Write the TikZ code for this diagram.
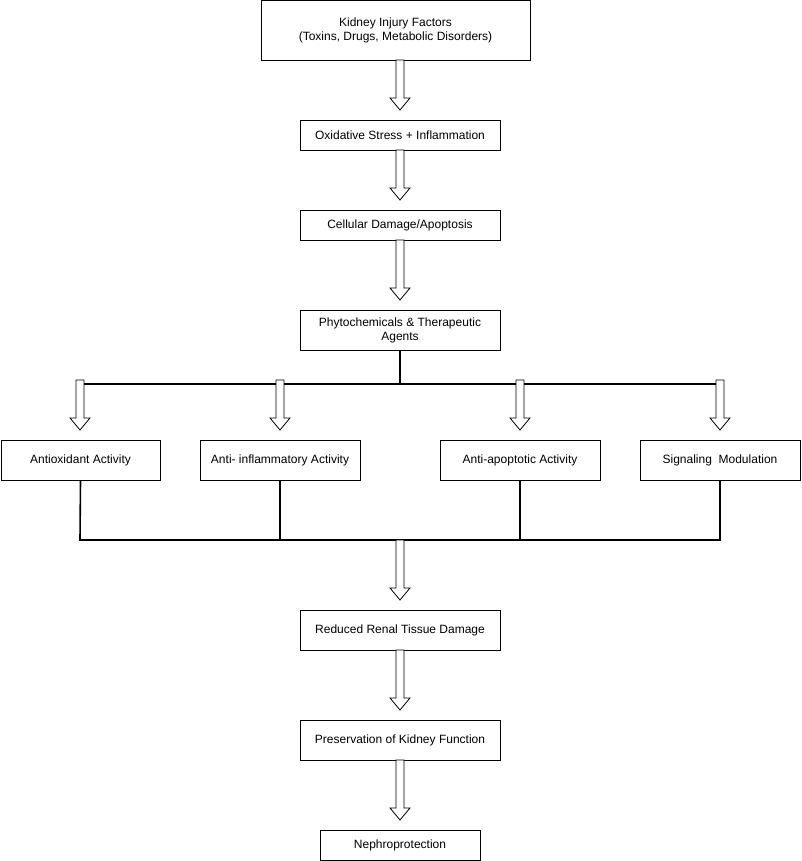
\documentclass[tikz,border=0pt]{standalone}
\usepackage{fontspec}
\setmainfont{Liberation Sans}
\begin{document}
\begin{tikzpicture}[x=1pt,y=-1pt,
  box/.style={draw,line width=0.8pt,align=center,font=\fontsize{12}{14}\selectfont,inner sep=0pt},
  hollow/.style={draw,fill=white,line width=0.8pt},
  bar/.style={line width=1.6pt}]
\useasboundingbox (0,0) rectangle (801,861);
\newcommand\harrow[3]{\draw[hollow] (#1-4,#2) -- (#1+4,#2) -- (#1+4,#3-12) -- (#1+10,#3-12) -- (#1,#3) -- (#1-10,#3-12) -- (#1-4,#3-12) -- cycle;}
\node[box,minimum width=269,minimum height=60] (k) at (395.5,30) {Kidney Injury Factors\\(Toxins, Drugs, Metabolic Disorders)};
\node[box,minimum width=200,minimum height=30] (o) at (400,135) {Oxidative Stress + Inflammation};
\node[box,minimum width=200,minimum height=30] (c) at (400,225) {Cellular Damage/Apoptosis};
\node[box,minimum width=200,minimum height=40] (p) at (400,330) {Phytochemicals \& Therapeutic\\Agents};
\node[box,minimum width=159,minimum height=40] (a1) at (80.5,460) {Antioxidant Activity};
\node[box,minimum width=160,minimum height=40] (a2) at (280,460) {Anti- inflammatory Activity};
\node[box,minimum width=160,minimum height=40] (a3) at (520,460) {Anti-apoptotic Activity};
\node[box,minimum width=160,minimum height=40] (a4) at (720,460) {Signaling\ \ Modulation};
\node[box,minimum width=200,minimum height=40] (r) at (400,630) {Reduced Renal Tissue Damage};
\node[box,minimum width=200,minimum height=40] (pr) at (400,740) {Preservation of Kidney Function};
\node[box,minimum width=160,minimum height=30] (n) at (400,845) {Nephroprotection};
\harrow{400}{60}{110}
\harrow{400}{150}{200}
\harrow{400}{240}{300}
\draw[bar] (p.south) -- (400,384);
\draw[bar] (84,384) -- (720,384);
\harrow{80}{380}{430}
\harrow{280}{380}{430}
\harrow{520}{380}{430}
\harrow{720}{380}{430}
\draw[bar] (a1.south) -- (80,540);
\draw[bar] (a2.south) -- (280,540);
\draw[bar] (a3.south) -- (520,540);
\draw[bar] (a4.south) -- (720,540);
\draw[bar] (79.2,540) -- (720.8,540);
\harrow{400}{540}{600}
\harrow{400}{650}{710}
\harrow{400}{760}{820}
\end{tikzpicture}
\end{document}
